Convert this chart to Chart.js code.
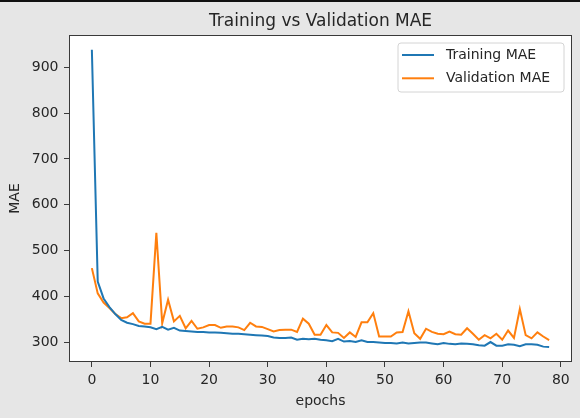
<!DOCTYPE html>
<html>
<head>
<meta charset="utf-8">
<script src="https://cdn.jsdelivr.net/npm/chart.js@4"></script>
<style>
  html, body { margin: 0; padding: 0; background: #e6e6e6; }
  #wrap { width: 580px; height: 418px; position: relative; }
</style>
</head>
<body>
<div id="wrap"><canvas id="c"></canvas></div>
<script>
const epochs = Array.from({length: 79}, (_, i) => i);
const trainingMAE = [938,433,396,377,362,349,343,340,336,335,333,329,334,328,332,326,325,324,323,323,
  322,322,321,320,319,319,318,317,316,315,314,311,310,310,311,306,308,307,308,306,
  305,303,308,302,303,301,305,301,301,300,299,299,298,300,298,299,300,300,298,296,
  299,297,296,298,297,296,294,293,301,293,293,296,295,292,296,296,295,291,290];
const validationMAE = [462,407,387,375,362,353,355,364,346,341,341,539,342,393,346,358,331,347,330,333,
  338,338,332,335,335,333,327,343,335,334,329,324,327,328,328,323,352,341,317,317,
  338,322,321,310,322,312,344,344,364,313,313,313,322,323,368,320,308,330,323,319,
  318,324,318,317,331,319,306,316,309,319,306,326,310,373,316,309,322,313,305];
const xTickValues = [0,10,20,30,40,50,60,70,80];
const yTickValues = [300,400,500,600,700,800,900];
const seriesNames = ['Training MAE', 'Validation MAE'];
const seriesColors = ['#1f77b4', '#ff7f0e'];

const FONT = 'DejaVu Sans';
const TXT = '#262626';

const bgPlugin = {
  id: 'bg',
  beforeDraw(chart) {
    const {ctx, chartArea: a} = chart;
    ctx.save();
    ctx.fillStyle = '#e6e6e6';
    ctx.fillRect(0, 0, chart.width, chart.height);
    ctx.fillStyle = '#111';
    ctx.fillRect(0, 0, chart.width, 2);
    ctx.fillStyle = '#ffffff';
    ctx.fillRect(a.left, a.top, a.right - a.left, a.bottom - a.top);
    ctx.restore();
  },
  afterDraw(chart) {
    const {ctx, chartArea: a} = chart;
    ctx.save();
    ctx.strokeStyle = '#3a3a3a';
    ctx.lineWidth = 1;
    ctx.strokeRect(Math.round(a.left) + 0.5, Math.round(a.top) + 0.5,
      Math.round(a.right - a.left) - 1, Math.round(a.bottom - a.top) - 1);
    // legend
    const bx = 398, by = 43, bw = 166, bh = 49, r = 3;
    ctx.beginPath();
    ctx.moveTo(bx + r, by);
    ctx.arcTo(bx + bw, by, bx + bw, by + bh, r);
    ctx.arcTo(bx + bw, by + bh, bx, by + bh, r);
    ctx.arcTo(bx, by + bh, bx, by, r);
    ctx.arcTo(bx, by, bx + bw, by, r);
    ctx.closePath();
    ctx.fillStyle = 'rgba(255,255,255,0.8)';
    ctx.fill();
    ctx.strokeStyle = '#d4d4d4';
    ctx.stroke();
    chart.data.datasets.forEach((ds, i) => {
      const y = 55 + i * 23.3;
      ctx.beginPath();
      ctx.strokeStyle = ds.borderColor;
      ctx.lineWidth = 2;
      ctx.moveTo(402, y);
      ctx.lineTo(434, y);
      ctx.stroke();
      ctx.fillStyle = TXT;
      ctx.font = '14px "' + FONT + '"';
      ctx.textBaseline = 'middle';
      ctx.textAlign = 'left';
      ctx.fillText(ds.label, 446, y);
    });
    ctx.restore();
  }
};

new Chart(document.getElementById('c'), {
  type: 'line',
  data: {
    datasets: [
      { label: seriesNames[0], data: epochs.map((e, i) => ({x: e, y: trainingMAE[i]})),
        borderColor: seriesColors[0], backgroundColor: seriesColors[0], borderWidth: 2,
        pointRadius: 0, tension: 0, fill: false },
      { label: seriesNames[1], data: epochs.map((e, i) => ({x: e, y: validationMAE[i]})),
        borderColor: seriesColors[1], backgroundColor: seriesColors[1], borderWidth: 2,
        pointRadius: 0, tension: 0, fill: false }
    ]
  },
  options: {
    responsive: true,
    maintainAspectRatio: false,
    animation: false,
    layout: { padding: { left: 0, right: 8, top: 0, bottom: 0 } },
    plugins: {
      legend: { display: false },
      tooltip: { enabled: false },
      title: {
        display: true, text: 'Training vs Validation MAE', fullSize: false,
        color: TXT, font: { family: FONT, size: 17, weight: 'normal' },
        padding: { top: 11.8, bottom: 2.8 }
      }
    },
    scales: {
      x: {
        type: 'linear', min: -3.9, max: 81.9,
        afterBuildTicks: s => { s.ticks = xTickValues.map(v => ({value: v})); },
        afterFit: s => { s.height = 56; },
        grid: { drawOnChartArea: false, drawTicks: true, tickLength: 5, color: '#3a3a3a' },
        border: { display: false },
        ticks: { color: TXT, font: { family: FONT, size: 14 }, padding: 4.6, maxRotation: 0, autoSkip: false },
        title: { display: true, text: 'epochs', color: TXT, font: { family: FONT, size: 14 }, padding: { bottom: 8.6, top: 0 } }
      },
      y: {
        type: 'linear', min: 257.5, max: 970,
        afterBuildTicks: s => { s.ticks = yTickValues.map(v => ({value: v})); },
        afterFit: s => { s.width = 69; },
        grid: { drawOnChartArea: false, drawTicks: true, tickLength: 5, color: '#3a3a3a' },
        border: { display: false },
        ticks: { color: TXT, font: { family: FONT, size: 14 }, padding: 5.5, autoSkip: false },
        title: { display: true, text: 'MAE', color: TXT, font: { family: FONT, size: 14 }, padding: { top: 6.6, bottom: 0 } }
      }
    }
  },
  plugins: [bgPlugin]
});
</script>
</body>
</html>
